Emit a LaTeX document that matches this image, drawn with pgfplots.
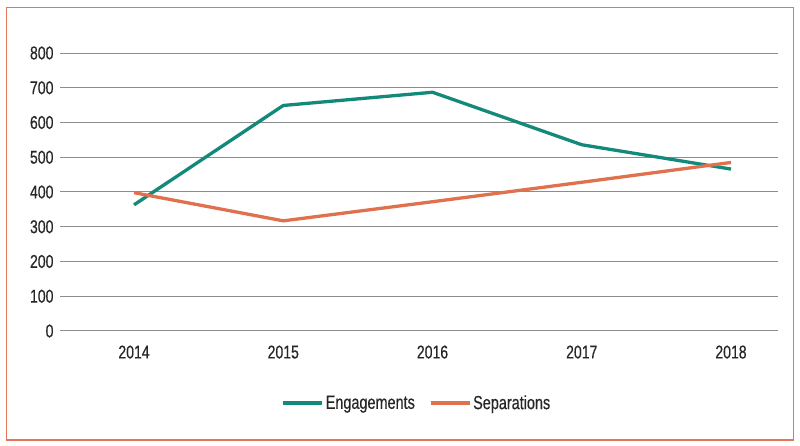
\documentclass[border=0pt]{standalone}
\usepackage{fontspec}
\setmainfont{Liberation Sans}[FakeStretch=0.76, FakeBold=0.4]
\usepackage{pgfplots}
\pgfplotsset{compat=1.18}
\definecolor{engage}{HTML}{13897A}
\definecolor{separ}{HTML}{E0714F}
\definecolor{framec}{HTML}{E2785A}
\definecolor{txt}{HTML}{262626}

\begin{document}
\begin{tikzpicture}[x=1pt,y=1pt]
\useasboundingbox (0,0) rectangle (800,446);
\draw[framec, line width=1.5pt] (6.5,6) rectangle (793.5,438.5);
\begin{axis}[
  at={(60pt,115pt)}, anchor=south west,
  width=718pt, height=278pt, scale only axis,
  xmin=-0.496, xmax=4.315, ymin=0, ymax=800,
  xtick={0,...,4}, xticklabels={2014,2015,2016,2017,2018},
  ytick={0,100,...,800},
  ymajorgrids, grid style={black!45, line width=1pt},
  axis line style={draw=none}, major tick length=0pt,
  tick label style={font=\fontsize{18.5}{21}\selectfont, text=txt,
    /pgf/number format/assume math mode=true},
  yticklabel style={xshift=-3pt},
  xticklabel style={yshift=-11pt},
  legend columns=2,
  legend style={at={(0.497,-0.259)}, anchor=center, draw=none,
    font=\fontsize{19}{21}\selectfont, text=txt,
    /tikz/every even column/.append style={column sep=12pt}},
  legend image code/.code={\draw[#1, line width=3.3pt] (0pt,0pt) -- (39pt,0pt);},
]
\addplot[engage, line width=3.3pt, no marks] coordinates
  {(0,363) (1,649) (2,687) (3,536) (4,466)};
\addplot[separ, line width=3.3pt, no marks] coordinates
  {(0,398) (1,317) (2,372) (3,428) (4,485)};
\legend{Engagements, Separations}
\end{axis}
\end{tikzpicture}
\end{document}
